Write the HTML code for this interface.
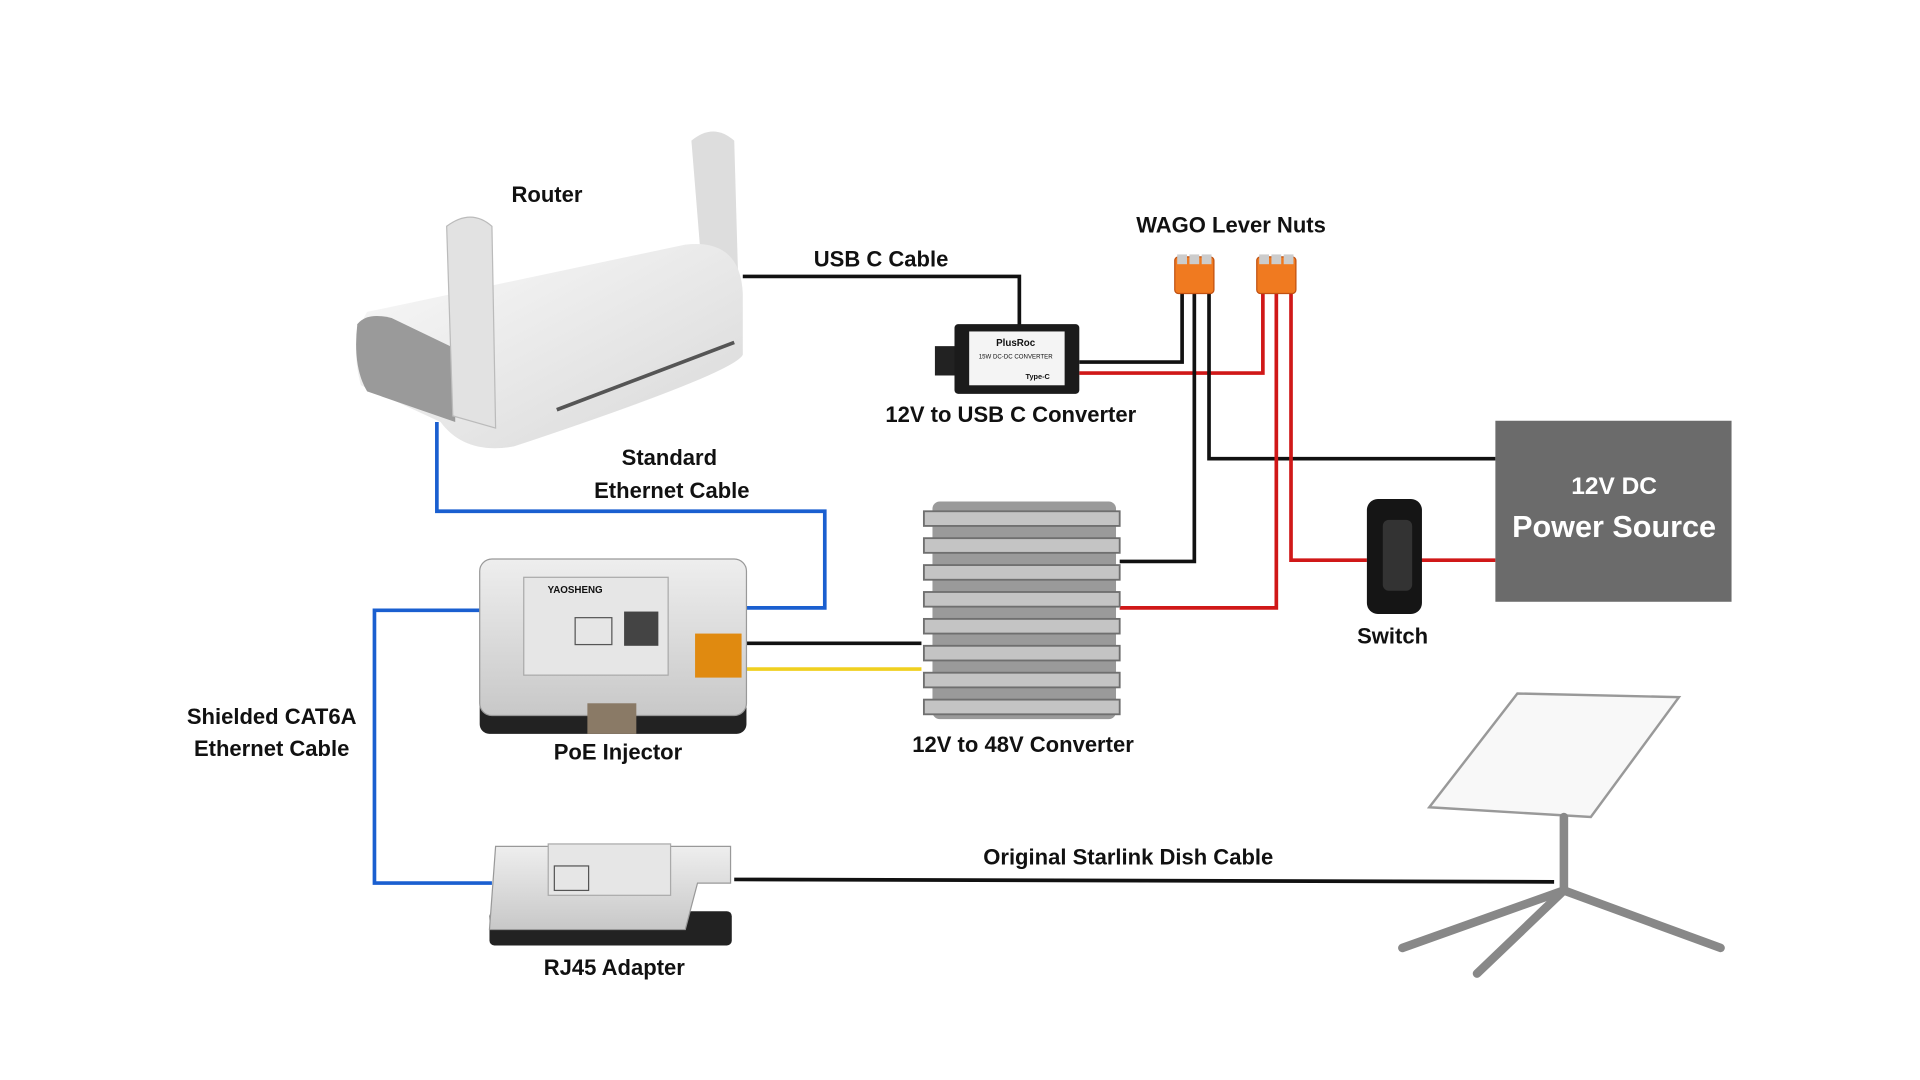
<!DOCTYPE html>
<html><head><meta charset="utf-8"><style>
html,body{margin:0;padding:0;background:#fff;}
svg{display:block;}
text{font-family:"Liberation Sans",sans-serif;font-weight:bold;fill:#111;text-anchor:middle;}
</style></head><body>
<svg width="1920" height="1080" viewBox="0 0 1569 883" preserveAspectRatio="none">
<defs>
<linearGradient id="rg" x1="0" y1="0" x2="1" y2="1"><stop offset="0" stop-color="#fafafa"/><stop offset="1" stop-color="#d8d8d8"/></linearGradient>
<linearGradient id="mg" x1="0" y1="0" x2="0" y2="1"><stop offset="0" stop-color="#eee"/><stop offset="1" stop-color="#c8c8c8"/></linearGradient>
</defs>
<g fill="none" stroke-width="3">
<polyline points="607,226 833,226 833,266" stroke="#111"/>
<polyline points="357,345 357,418 674,418 674,497 607,497" stroke="#1a5fd0"/>
<polyline points="392,499 306,499 306,722 402,722" stroke="#1a5fd0"/>
<polyline points="600,719 1270,721" stroke="#111"/>
<polyline points="607,526 753,526" stroke="#111"/>
<polyline points="607,547 753,547" stroke="#f0d020"/>
<polyline points="882,296 966,296 966,238" stroke="#111"/>
<polyline points="882,305 1032,305 1032,238" stroke="#d01818"/>
<polyline points="976,238 976,459 915,459" stroke="#111"/>
<polyline points="988,238 988,375 1222,375" stroke="#111"/>
<polyline points="1043,238 1043,497 915,497" stroke="#d01818"/>
<polyline points="1055,238 1055,458 1117,458" stroke="#d01818"/>
<polyline points="1160,458 1222,458" stroke="#d01818"/>
</g>
<path d="M565,115 Q583,100 600,115 L605,290 L580,300 Z" fill="#ddd"/>
<path d="M300,255 L560,200 Q605,195 607,240 L607,290 Q600,305 420,365 Q380,372 360,345 L295,315 Q285,280 300,255 Z" fill="url(#rg)"/>
<path d="M292,265 Q300,255 320,260 L372,285 L372,345 L300,320 Q288,300 292,265Z" fill="#9a9a9a"/>
<path d="M365,185 Q385,170 402,185 L405,350 L370,340 Z" fill="#e2e2e2" stroke="#bbb"/>
<line x1="455" y1="335" x2="600" y2="280" stroke="#555" stroke-width="3"/>
<rect x="764" y="283" width="18" height="24" fill="#222"/>
<rect x="780" y="265" width="102" height="57" rx="3" fill="#1b1b1b"/>
<rect x="792" y="271" width="78" height="44" fill="#f4f4f4"/>
<text x="830" y="283" style="font-size:8px">PlusRoc</text>
<text x="830" y="293" style="font-size:5px;font-weight:normal">15W DC-DC CONVERTER</text>
<text x="848" y="310" style="font-size:6px">Type-C</text>
<g fill="#f07a20" stroke="#c05010"><rect x="960" y="210" width="32" height="30" rx="3"/><rect x="1027" y="210" width="32" height="30" rx="3"/></g>
<g fill="#ccc"><rect x="962" y="208" width="8" height="8"/><rect x="972" y="208" width="8" height="8"/><rect x="982" y="208" width="8" height="8"/><rect x="1029" y="208" width="8" height="8"/><rect x="1039" y="208" width="8" height="8"/><rect x="1049" y="208" width="8" height="8"/></g>
<rect x="1222" y="344" width="193" height="148" fill="#6b6b6b"/>
<text x="1319" y="404" style="font-size:20px;fill:#fff">12V DC</text>
<text x="1319" y="439" style="font-size:25px;fill:#fff">Power Source</text>
<rect x="1117" y="408" width="45" height="94" rx="9" fill="#151515"/>
<rect x="1130" y="425" width="24" height="58" rx="5" fill="#333"/>
<rect x="762" y="410" width="150" height="178" rx="6" fill="#9a9a9a"/>
<g fill="#c4c4c4" stroke="#6f6f6f" stroke-width="1.5">
<rect x="755" y="418" width="160" height="12"/><rect x="755" y="440" width="160" height="12"/><rect x="755" y="462" width="160" height="12"/><rect x="755" y="484" width="160" height="12"/><rect x="755" y="506" width="160" height="12"/><rect x="755" y="528" width="160" height="12"/><rect x="755" y="550" width="160" height="12"/><rect x="755" y="572" width="160" height="12"/>
</g>
<rect x="392" y="560" width="218" height="40" rx="8" fill="#222"/>
<rect x="392" y="457" width="218" height="128" rx="10" fill="url(#mg)" stroke="#999"/>
<rect x="428" y="472" width="118" height="80" fill="#e6e6e6" stroke="#aaa"/>
<text x="470" y="485" style="font-size:8px">YAOSHENG</text>
<rect x="470" y="505" width="30" height="22" fill="none" stroke="#555"/>
<rect x="510" y="500" width="28" height="28" fill="#444"/>
<rect x="568" y="518" width="38" height="36" fill="#e08a10"/>
<rect x="480" y="575" width="40" height="25" fill="#8a7a66"/>
<rect x="400" y="745" width="198" height="28" rx="4" fill="#222"/>
<path d="M405,692 L597,692 L597,722 L570,722 L560,760 L400,760 Z" fill="url(#mg)" stroke="#999"/>
<rect x="448" y="690" width="100" height="42" fill="#e6e6e6" stroke="#aaa"/>
<rect x="453" y="708" width="28" height="20" fill="none" stroke="#555"/>
<polygon points="1168,660 1240,567 1372,570 1300,668" fill="#f8f8f8" stroke="#999" stroke-width="2"/>
<g stroke="#888" stroke-width="7" stroke-linecap="round"><line x1="1278" y1="668" x2="1278" y2="728"/><line x1="1278" y1="728" x2="1146" y2="775"/><line x1="1278" y1="728" x2="1406" y2="775"/><line x1="1278" y1="728" x2="1207" y2="796"/></g>
<g style="font-size:18px">
<text x="447" y="165">Router</text>
<text x="720" y="218">USB C Cable</text>
<text x="1006" y="190">WAGO Lever Nuts</text>
<text x="826" y="345">12V to USB C Converter</text>
<text x="547" y="380">Standard</text>
<text x="549" y="407">Ethernet Cable</text>
<text x="1138" y="526">Switch</text>
<text x="222" y="592">Shielded CAT6A</text>
<text x="222" y="618">Ethernet Cable</text>
<text x="505" y="621">PoE Injector</text>
<text x="836" y="615">12V to 48V Converter</text>
<text x="922" y="707">Original Starlink Dish Cable</text>
<text x="502" y="797">RJ45 Adapter</text>
</g>
</svg>
</body></html>
